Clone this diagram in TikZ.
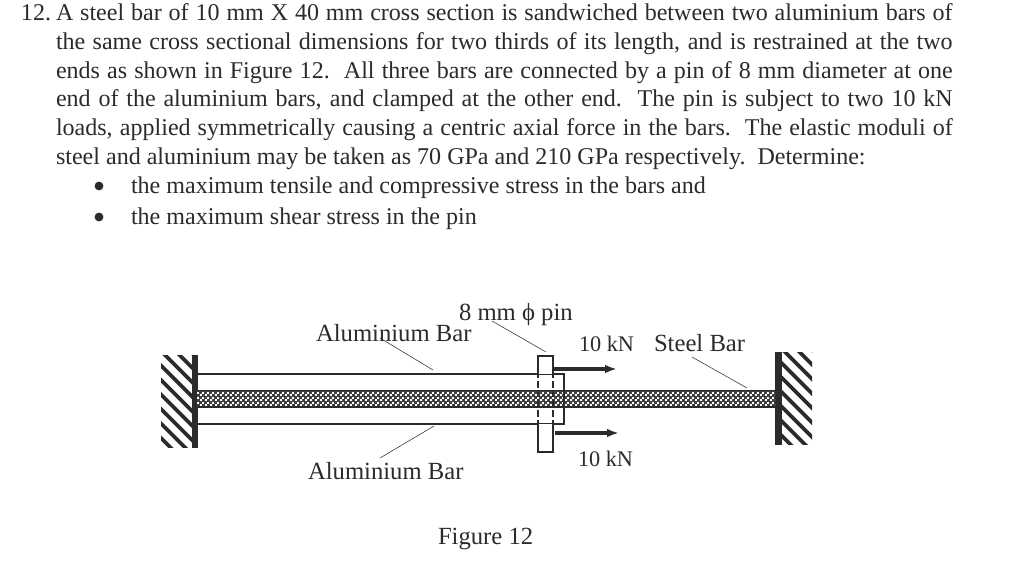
\documentclass[tikz,border=0pt]{standalone}
\usepackage{fontspec}
\setmainfont{Liberation Serif}
\definecolor{ink}{HTML}{2B2B2B}
\newcommand{\bodyline}[2]{\makebox[#1][s]{#2}}
\usetikzlibrary{arrows.meta}
\tikzset{
  x=0.75pt,y=-0.75pt,
  para/.style={anchor=base west,inner sep=0,outer sep=0,text=ink,font=\fontsize{18.03}{20}\selectfont},
  lab/.style={anchor=base west,inner sep=0,outer sep=0,text=ink,font=\fontsize{18.5}{20}\selectfont},
  labsmall/.style={anchor=base west,inner sep=0,outer sep=0,text=ink,font=\fontsize{16.7}{20}\selectfont},
  leader/.style={draw=ink,line width=0.4pt},
  barline/.style={draw=ink,line width=1.5pt},
  wall/.style={fill=ink,draw=none},
  force/.style={draw=ink,line width=2.4pt,-{Latex[length=9pt,width=6.5pt]}},
  hatchline/.style={draw=ink,line width=2.7pt},
}
\begin{document}
\begin{tikzpicture}
\useasboundingbox (0,0) rectangle (1024,578);
\fill[white] (0,0) rectangle (1024,578);
% text
\node[para] (n0) at (21,20.5) {12.};
\node[para] (l1) at (56,20.5) {\bodyline{672.5pt}{A steel bar of 10 mm X 40 mm cross section is sandwiched between two aluminium bars of}};
\node[para] (l2) at (56,49.2) {\bodyline{672.5pt}{the same cross sectional dimensions for two thirds of its length, and is restrained at the two}};
\node[para] (l3) at (56,78) {\bodyline{672.5pt}{ends as shown in Figure 12.\ \ All three bars are connected by a pin of 8 mm diameter at one}};
\node[para] (l4) at (56,106.5) {\bodyline{672.5pt}{end of the aluminium bars, and clamped at the other end.\ \ The pin is subject to two 10 kN}};
\node[para] (l5) at (56,135.2) {\bodyline{672.5pt}{loads, applied symmetrically causing a centric axial force in the bars.\ \ The elastic moduli of}};
\node[para] (l6) at (56,164) {steel and aluminium may be taken as 70 GPa and 210 GPa respectively.\ \ Determine:};
\fill[ink] (99,186) circle (4.4) (99,217) circle (4.4);
\node[para] (b1) at (131,193) {the maximum tensile and compressive stress in the bars and};
\node[para] (b2) at (131,224) {the maximum shear stress in the pin};
% labels
\node[lab] (pinlab) at (459,320) {8 mm ϕ pin};
\node[lab] (altop) at (316,341) {Aluminium Bar};
\node[labsmall] (kntop) at (579,351) {10 kN};
\node[lab] (steellab) at (654,351) {Steel Bar};
\node[labsmall] (knbot) at (578,466) {10 kN};
\node[lab] (albot) at (308,479) {Aluminium Bar};
\node[lab] (fig) at (438,544.5) {Figure 12};
% left wall hatch
\begin{scope}
\clip (161,355) rectangle (193,447);
\foreach \i in {-6,...,9} \draw[hatchline] (150,340+\i*14.5) -- ++(50,50);
\end{scope}
\fill[wall] (192,355) rectangle (197.5,447.5);
% right wall hatch
\begin{scope}
\clip (781,352) rectangle (812,444);
\foreach \i in {-6,...,9} \draw[hatchline] (770,337+\i*14.5) -- ++(50,50);
\end{scope}
\fill[wall] (775,352) rectangle (781.5,444.5);
% steel bar
\begin{scope}
\clip (197,391) rectangle (775,406);
\fill[ink!90] (197,391) rectangle (775,406);
\foreach \yy/\ph in {392.5/0,395/1.875,397.5/0,400/1.875,402.5/0,405/1.875}
  \draw[white,line width=1.5pt,dash pattern=on 1.5pt off 2.25pt,dash phase=\ph pt] (197,\yy) -- (775,\yy);
\end{scope}
\draw[draw=ink,line width=1.4pt] (197,390.5) -- (775,390.5) (197,407) -- (775,407);
% aluminium bars
\coordinate (a1) at (197,374);
\coordinate (a2) at (564,374);
\coordinate (a3) at (564,424);
\coordinate (a4) at (197,424);
\draw[barline] (a1) -- (a2) -- (a3) -- (a4);
% pin
\fill[white] (537.5,356) rectangle (552.5,374);
\fill[white] (537.5,424) rectangle (552.5,451);
\draw[barline] (537.5,378) -- (537.5,356) -- (552.5,356) -- (552.5,378);
\draw[barline] (537.5,420) -- (537.5,451.5) -- (552.5,451.5) -- (552.5,420);
\draw[barline] (537.5,381) -- (537.5,388) (552.5,381) -- (552.5,388) (537.5,410) -- (537.5,417) (552.5,410) -- (552.5,417);
\draw[barline,dash pattern=on 5pt off 2pt] (537.5,390) -- (537.5,408);
\draw[barline,dash pattern=on 5pt off 2pt] (552.5,390) -- (552.5,408);
% forces
\coordinate (f1a) at (553,369);
\coordinate (f1b) at (617,369);
\coordinate (f2a) at (555,433);
\coordinate (f2b) at (619,433);
\draw[force] (f1a) -- (f1b);
\draw[force] (f2a) -- (f2b);
% leaders
\coordinate (t1) at (380,338); \coordinate (t2) at (433,370);
\coordinate (t3) at (380,458); \coordinate (t4) at (434,426);
\coordinate (t5) at (492,321); \coordinate (t6) at (546,352);
\coordinate (t7) at (692,357); \coordinate (t8) at (747,388);
\draw[leader] (t1) -- (t2);
\draw[leader] (t3) -- (t4);
\draw[leader] (t5) -- (t6);
\draw[leader] (t7) -- (t8);
\end{tikzpicture}
\end{document}
